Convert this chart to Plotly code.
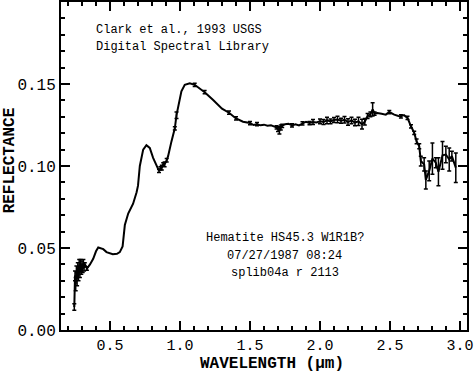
import plotly.graph_objects as go

# Wavelength (µm), reflectance, and error-bar half-height (0 = no bar)
wavelength = [
    0.245, 0.250, 0.255, 0.260, 0.265, 0.270, 0.275, 0.280, 0.285, 0.290,
    0.295, 0.300, 0.305, 0.310, 0.315, 0.320, 0.335, 0.357, 0.380, 0.400,
    0.416, 0.435, 0.452, 0.475, 0.499, 0.520, 0.550, 0.570, 0.590, 0.606,
    0.630, 0.665, 0.690, 0.700, 0.713, 0.737, 0.760, 0.784, 0.808, 0.832,
    0.850, 0.860, 0.870, 0.880, 0.890, 0.905, 0.915, 0.939, 0.963, 0.975,
    0.993, 1.010, 1.034, 1.070, 1.105, 1.140, 1.176, 1.235, 1.300, 1.350,
    1.400, 1.450, 1.500, 1.525, 1.550, 1.575, 1.600, 1.625, 1.650, 1.675,
    1.690, 1.700, 1.710, 1.720, 1.730, 1.750, 1.775, 1.800, 1.825, 1.850,
    1.875, 1.900, 1.925, 1.950, 1.975, 2.000, 2.025, 2.050, 2.075, 2.100,
    2.125, 2.150, 2.175, 2.200, 2.225, 2.250, 2.275, 2.300, 2.320, 2.340,
    2.360, 2.376, 2.390, 2.410, 2.440, 2.470, 2.495, 2.530, 2.560, 2.578,
    2.600, 2.625, 2.650, 2.673, 2.690, 2.709, 2.720, 2.744, 2.756, 2.780,
    2.803, 2.827, 2.846, 2.875, 2.899, 2.923, 2.942, 2.970,
]
reflectance = [
    0.0140, 0.0330, 0.0280, 0.0360, 0.0310, 0.0380, 0.0330, 0.0400, 0.0350, 0.0410,
    0.0360, 0.0400, 0.0370, 0.0410, 0.0380, 0.0400, 0.0375, 0.0400, 0.0434, 0.0480,
    0.0503, 0.0500, 0.0493, 0.0475, 0.0466, 0.0462, 0.0465, 0.0475, 0.0510, 0.0640,
    0.0710, 0.0770, 0.0840, 0.0880, 0.1000, 0.1100, 0.1127, 0.1110, 0.1050, 0.1000,
    0.0970, 0.0985, 0.0990, 0.1010, 0.1010, 0.1035, 0.1060, 0.1150, 0.1230, 0.1310,
    0.1390, 0.1455, 0.1495, 0.1505, 0.1495, 0.1475, 0.1450, 0.1404, 0.1350, 0.1325,
    0.1290, 0.1270, 0.1262, 0.1250, 0.1255, 0.1248, 0.1252, 0.1245, 0.1248, 0.1240,
    0.1235, 0.1225, 0.1215, 0.1235, 0.1245, 0.1255, 0.1258, 0.1248, 0.1255, 0.1248,
    0.1260, 0.1270, 0.1262, 0.1268, 0.1265, 0.1272, 0.1268, 0.1278, 0.1272, 0.1280,
    0.1283, 0.1276, 0.1282, 0.1268, 0.1278, 0.1265, 0.1272, 0.1255, 0.1270, 0.1305,
    0.1315, 0.1345, 0.1320, 0.1323, 0.1318, 0.1313, 0.1329, 0.1313, 0.1305, 0.1303,
    0.1310, 0.1293, 0.1242, 0.1202, 0.1150, 0.1120, 0.1030, 0.1010, 0.0915, 0.0970,
    0.1045, 0.1020, 0.0965, 0.1065, 0.1070, 0.1040, 0.1060, 0.0990,
]
error = [
    0.002, 0.003, 0.004, 0.003, 0.004, 0.003, 0.003, 0.003, 0.003, 0.002,
    0.002, 0.002, 0.002, 0.002, 0.002, 0.001, 0.001, 0, 0, 0,
    0, 0, 0, 0, 0, 0, 0, 0, 0, 0,
    0, 0, 0, 0, 0, 0, 0, 0, 0, 0,
    0.001, 0.001, 0.0015, 0.001, 0.0015, 0.001, 0, 0, 0.001, 0.002,
    0, 0, 0, 0, 0.001, 0, 0.001, 0, 0, 0.001,
    0.001, 0, 0.001, 0, 0.001, 0, 0, 0, 0, 0,
    0.001, 0.0015, 0.002, 0.0015, 0.001, 0, 0, 0.001, 0, 0,
    0.001, 0, 0.001, 0.0015, 0, 0.0015, 0.0015, 0.002, 0.0015, 0.0015,
    0.002, 0.0015, 0.002, 0.002, 0.002, 0.002, 0.0025, 0.003, 0.002, 0.0015,
    0.0015, 0.004, 0.001, 0, 0, 0, 0.001, 0, 0, 0.001,
    0, 0.001, 0.001, 0.001, 0.0015, 0.0015, 0.003, 0.004, 0.0055, 0.006,
    0.0095, 0.003, 0.0085, 0.0085, 0.005, 0.007, 0.003, 0.009,
]

x_ticks = [0.5, 1.0, 1.5, 2.0, 2.5, 3.0]
y_ticks = [0.00, 0.05, 0.10, 0.15]

header_lines = ["Clark et al., 1993 USGS", "Digital Spectral Library"]
sample_lines = ["Hematite HS45.3 W1R1B?", "07/27/1987 08:24", "splib04a r 2113"]
x_title = "WAVELENGTH (\u03bcm)"
y_title = "REFLECTANCE"

MONO = "Liberation Mono"

fig = go.Figure()
fig.add_trace(go.Scatter(
    x=wavelength, y=reflectance, mode="lines",
    line=dict(color="black", width=2), showlegend=False, hoverinfo="x+y",
))
ex = [w for w, e in zip(wavelength, error) if e > 0]
ey = [r for r, e in zip(reflectance, error) if e > 0]
ee = [e for e in error if e > 0]
fig.add_trace(go.Scatter(
    x=ex, y=ey, mode="markers", marker=dict(size=1, color="black", opacity=0),
    error_y=dict(type="data", array=ee, color="black", thickness=1.5, width=2),
    showlegend=False, hoverinfo="skip",
))

axis_common = dict(
    showline=True, linecolor="black", linewidth=2, mirror="ticks",
    ticks="inside", ticklen=9, tickwidth=2, tickcolor="black",
    showgrid=False, zeroline=False, automargin=False,
    ticklabeloverflow="allow",
)
fig.update_xaxes(
    range=[0.15, 3.05], tickvals=x_ticks,
    ticktext=[f"{v:.1f}" for v in x_ticks],
    tickfont=dict(family=MONO, size=15, color="black"),
    minor=dict(ticks="inside", ticklen=4, tickwidth=1.5, tickcolor="black", dtick=0.1, tick0=0, showgrid=False),
    **axis_common,
)
fig.update_yaxes(
    range=[0, 0.2], tickvals=y_ticks,
    ticktext=[f"{v:.2f}" for v in y_ticks],
    tickfont=dict(family=MONO, size=16, color="black"),
    minor=dict(ticks="inside", ticklen=4, tickwidth=1.5, tickcolor="black", dtick=0.01, tick0=0, showgrid=False),
    **axis_common,
)

annotations = []
for i, t in enumerate(header_lines):
    annotations.append(dict(
        text=t, xref="paper", yref="paper", x=0.0812, y=0.9146 - i * 0.052,
        xanchor="left", yanchor="middle", showarrow=False,
        font=dict(family=MONO, size=12, color="black"),
    ))
for i, t in enumerate(sample_lines):
    annotations.append(dict(
        text=t, xref="paper", yref="paper", x=0.551, y=0.2814 - i * 0.0543,
        xanchor="center", yanchor="middle", showarrow=False,
        font=dict(family=MONO, size=12, color="black"),
    ))
# axis titles
annotations.append(dict(
    text=f"<b>{x_title}</b>", xref="paper", yref="paper", x=0.52, y=-0.104,
    xanchor="center", yanchor="middle", showarrow=False,
    font=dict(family=MONO, size=16, color="black"),
))
annotations.append(dict(
    text=f"<b>{y_title}</b>", xref="paper", yref="paper", x=-0.125, y=0.518,
    xanchor="center", yanchor="middle", showarrow=False, textangle=-90,
    font=dict(family=MONO, size=16, color="black"),
))

fig.update_layout(
    width=474, height=375,
    margin=dict(l=61, r=7, t=2, b=45),
    plot_bgcolor="white", paper_bgcolor="white",
    annotations=annotations,
    showlegend=False,
)

fig.write_html(
    "out.html",
    config={"displayModeBar": False},
    post_script="document.body.style.margin='0px';document.body.style.overflow='hidden';",
)
